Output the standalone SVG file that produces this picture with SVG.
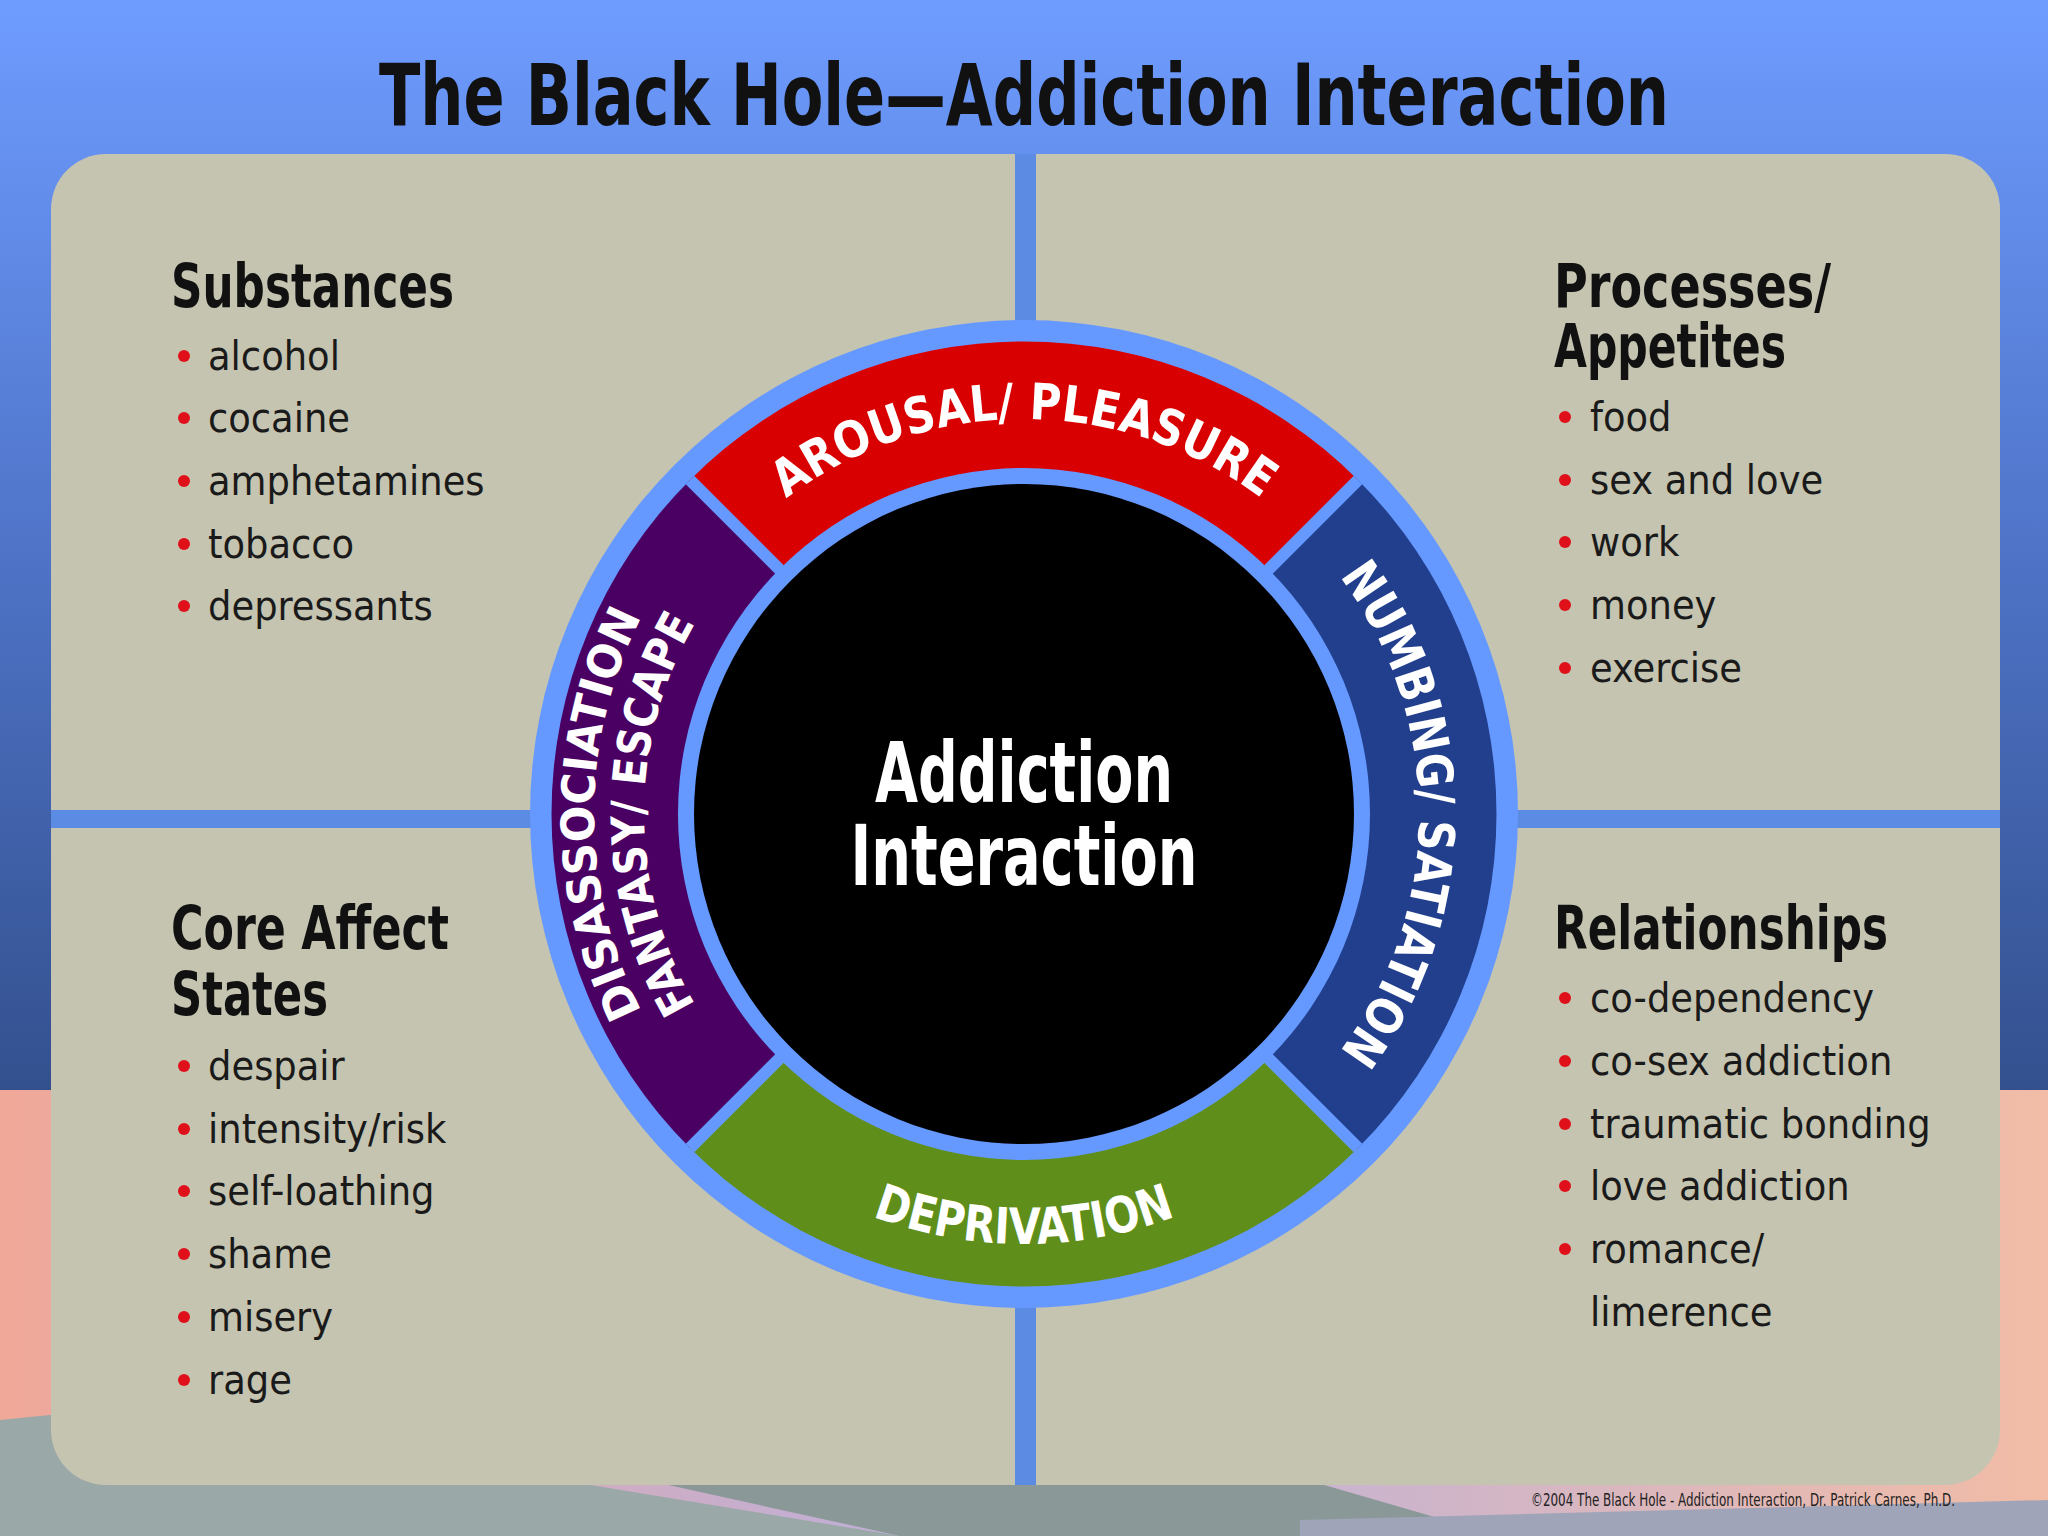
<svg xmlns="http://www.w3.org/2000/svg" width="2048" height="1536" viewBox="0 0 2048 1536">
<defs>
<linearGradient id="sky" x1="0" y1="0" x2="0" y2="1"><stop offset="0" stop-color="#6e9cff"/><stop offset="0.5" stop-color="#4f74c8"/><stop offset="1" stop-color="#33508e"/></linearGradient>
<linearGradient id="low" x1="0" y1="0" x2="1" y2="0"><stop offset="0" stop-color="#f0a898"/><stop offset="0.5" stop-color="#b8b0e0"/><stop offset="1" stop-color="#f2bca6"/></linearGradient>
<path id="pTop" d="M 629 814 A 395 395 0 0 1 1419 814"/>
<path id="pRight" d="M 1024 419 A 395 395 0 0 1 1024 1209"/>
<path id="pBot" d="M 594 814 A 430 430 0 0 0 1454 814"/>
<path id="pLeftO" d="M 1024 1244 A 430 430 0 0 1 1024 384"/>
<path id="pLeftI" d="M 1024 1194 A 380 380 0 0 1 1024 434"/>
</defs>
<style>
.h{font-family:"DejaVu Sans Condensed","DejaVu Sans",sans-serif;font-weight:bold;fill:#111}
.t{font-family:"DejaVu Sans Condensed","DejaVu Sans",sans-serif;font-size:41px;fill:#1a1a1a}
.b{fill:#e0101a}
.w{font-family:"DejaVu Sans Condensed","DejaVu Sans",sans-serif;font-weight:bold;fill:#fff}
</style>
<rect width="2048" height="1090" fill="url(#sky)"/>
<rect y="1090" width="2048" height="446" fill="url(#low)"/>
<polygon points="0,1420 200,1400 560,1480 900,1536 0,1536" fill="#9aa8a8"/>
<polygon points="600,1470 1100,1420 1500,1536 900,1536" fill="#8a9898"/>
<polygon points="1300,1520 2048,1500 2048,1536 1300,1536" fill="#a0a4b8"/>
<text class="h" x="1024" y="125" font-size="86" text-anchor="middle" textLength="1290" lengthAdjust="spacingAndGlyphs">The Black Hole—Addiction Interaction</text>
<g id="panels">
<rect x="51" y="154" width="1949" height="1331" rx="55" fill="#c5c4b0"/>
<rect x="1015" y="154" width="21" height="1331" fill="#5b8be2"/>
<rect x="51" y="810" width="1949" height="18" fill="#5b8be2"/>
</g>
<g id="substances">
<text class="h" x="171" y="307" font-size="60" textLength="283" lengthAdjust="spacingAndGlyphs">Substances</text>
<g class="t">
<circle class="b" cx="184" cy="356" r="6"/><text x="208" y="370">alcohol</text>
<circle class="b" cx="184" cy="418" r="6"/><text x="208" y="432">cocaine</text>
<circle class="b" cx="184" cy="481" r="6"/><text x="208" y="495">amphetamines</text>
<circle class="b" cx="184" cy="544" r="6"/><text x="208" y="558">tobacco</text>
<circle class="b" cx="184" cy="606" r="6"/><text x="208" y="620">depressants</text>
</g></g>
<g id="processes">
<text class="h" x="1554" y="307" font-size="60" textLength="277" lengthAdjust="spacingAndGlyphs">Processes/</text>
<text class="h" x="1554" y="367" font-size="60" textLength="232" lengthAdjust="spacingAndGlyphs">Appetites</text>
<g class="t">
<circle class="b" cx="1565" cy="417" r="6"/><text x="1590" y="431">food</text>
<circle class="b" cx="1565" cy="480" r="6"/><text x="1590" y="494">sex and love</text>
<circle class="b" cx="1565" cy="542" r="6"/><text x="1590" y="556">work</text>
<circle class="b" cx="1565" cy="605" r="6"/><text x="1590" y="619">money</text>
<circle class="b" cx="1565" cy="668" r="6"/><text x="1590" y="682">exercise</text>
</g></g>
<g id="core">
<text class="h" x="171" y="949" font-size="60" textLength="278" lengthAdjust="spacingAndGlyphs">Core Affect</text>
<text class="h" x="171" y="1015" font-size="60" textLength="157" lengthAdjust="spacingAndGlyphs">States</text>
<g class="t">
<circle class="b" cx="184" cy="1066" r="6"/><text x="208" y="1080">despair</text>
<circle class="b" cx="184" cy="1129" r="6"/><text x="208" y="1143">intensity/risk</text>
<circle class="b" cx="184" cy="1191" r="6"/><text x="208" y="1205">self-loathing</text>
<circle class="b" cx="184" cy="1254" r="6"/><text x="208" y="1268">shame</text>
<circle class="b" cx="184" cy="1317" r="6"/><text x="208" y="1331">misery</text>
<circle class="b" cx="184" cy="1380" r="6"/><text x="208" y="1394">rage</text>
</g></g>
<g id="relationships">
<text class="h" x="1554" y="949" font-size="60" textLength="334" lengthAdjust="spacingAndGlyphs">Relationships</text>
<g class="t">
<circle class="b" cx="1565" cy="998" r="6"/><text x="1590" y="1012">co-dependency</text>
<circle class="b" cx="1565" cy="1061" r="6"/><text x="1590" y="1075">co-sex addiction</text>
<circle class="b" cx="1565" cy="1124" r="6"/><text x="1590" y="1138">traumatic bonding</text>
<circle class="b" cx="1565" cy="1186" r="6"/><text x="1590" y="1200">love addiction</text>
<circle class="b" cx="1565" cy="1249" r="6"/><text x="1590" y="1263">romance/</text>
<text x="1590" y="1326">limerence</text>
</g></g>
<g id="wheel">
<circle cx="1024" cy="814" r="494" fill="#6699ff"/>
<path d="M 690 480 A 472 472 0 0 1 1358 480 L 1024 814 Z" fill="#d80000"/>
<path d="M 1358 480 A 472 472 0 0 1 1358 1148 L 1024 814 Z" fill="#213f8c"/>
<path d="M 1358 1148 A 472 472 0 0 1 690 1148 L 1024 814 Z" fill="#5f8f1a"/>
<path d="M 690 1148 A 472 472 0 0 1 690 480 L 1024 814 Z" fill="#4a0062"/>
<line x1="690" y1="480" x2="1358" y2="1148" stroke="#6699ff" stroke-width="12"/>
<line x1="1358" y1="480" x2="690" y2="1148" stroke="#6699ff" stroke-width="12"/>
<circle cx="1024" cy="814" r="346" fill="#6699ff"/>
<circle cx="1024" cy="814" r="330" fill="#000"/>
<text class="w" font-size="50"><textPath href="#pTop" startOffset="50%" text-anchor="middle" textLength="510" lengthAdjust="spacingAndGlyphs">AROUSAL/ PLEASURE</textPath></text>
<text class="w" font-size="50"><textPath href="#pRight" startOffset="50%" text-anchor="middle" textLength="510" lengthAdjust="spacingAndGlyphs">NUMBING/ SATIATION</textPath></text>
<text class="w" font-size="50"><textPath href="#pBot" startOffset="50%" text-anchor="middle" textLength="310" lengthAdjust="spacingAndGlyphs">DEPRIVATION</textPath></text>
<text class="w" font-size="46"><textPath href="#pLeftO" startOffset="50%" text-anchor="middle" textLength="410" lengthAdjust="spacingAndGlyphs">DISASSOCIATION</textPath></text>
<text class="w" font-size="46"><textPath href="#pLeftI" startOffset="50%" text-anchor="middle" textLength="400" lengthAdjust="spacingAndGlyphs">FANTASY/ ESCAPE</textPath></text>
<text class="w" x="1024" y="802" font-size="84" text-anchor="middle" textLength="298" lengthAdjust="spacingAndGlyphs">Addiction</text>
<text class="w" x="1024" y="885" font-size="84" text-anchor="middle" textLength="347" lengthAdjust="spacingAndGlyphs">Interaction</text>
</g>
<text x="1531" y="1506" font-family="'DejaVu Sans Condensed','DejaVu Sans',sans-serif" font-size="17" fill="#222" textLength="424" lengthAdjust="spacingAndGlyphs">©2004 The Black Hole - Addiction Interaction, Dr. Patrick Carnes, Ph.D.</text>
</svg>
